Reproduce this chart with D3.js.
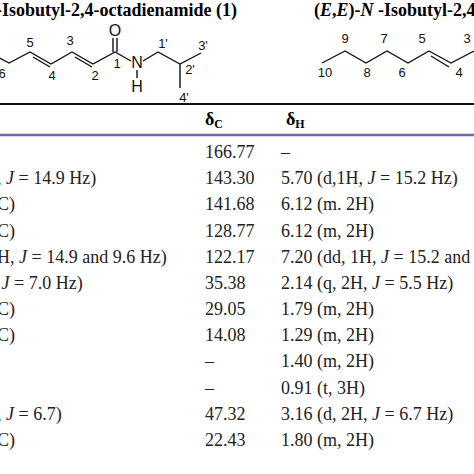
<!DOCTYPE html>
<html><head><meta charset="utf-8">
<script src="https://cdn.jsdelivr.net/npm/d3@7"></script>
<style>body{margin:0;background:#fff}svg{display:block}</style></head>
<body><svg id="c" width="474" height="474"></svg>
<script>
const leftCol = ["", ", J = 14.9 Hz)", "C)", "C)", "H, J = 14.9 and 9.6 Hz)", " J = 7.0 Hz)", "C)", "C)", "", "", ", J = 6.7)", "C)"];
const deltaC = ["166.77","143.30","141.68","128.77","122.17","35.38","29.05","14.08","–","–","47.32","22.43"];
const deltaH = ["–","5.70 (d,1H, J = 15.2 Hz)","6.12 (m. 2H)","6.12 (m, 2H)","7.20 (dd, 1H, J = 15.2 and 9.6 Hz)","2.14 (q, 2H, J = 5.5 Hz)","1.79 (m, 2H)","1.29 (m, 2H)","1.40 (m, 2H)","0.91 (t, 3H)","3.16 (d, 2H, J = 6.7 Hz)","1.80 (m, 2H)"];
const svg = d3.select("#c");
const serif = "'Liberation Serif', 'DejaVu Serif', serif";
const sans = "'Liberation Sans', Arial, sans-serif";
const y = d3.scalePoint().domain(d3.range(deltaC.length)).range([152, 440]);

function rich(sel, str){
  str.split(/(J)/).forEach(p=>{ const t=sel.append("tspan").text(p); if(p==="J") t.attr("font-style","italic"); });
}
const t1 = svg.append("text").attr("x",237).attr("y",16).attr("text-anchor","end").attr("font-family",serif).attr("font-weight","bold").attr("font-size",18);
[["(",0],["E",1],[",",0],["E",1],[")-",0],["N",1],["-Isobutyl-2,4-octadienamide (1)",0]].forEach(([s,i])=>t1.append("tspan").text(s).attr("font-style",i?"italic":null));
const t2 = svg.append("text").attr("x",314).attr("y",16).attr("font-family",serif).attr("font-weight","bold").attr("font-size",18);
[["(",0],["E",1],[",",0],["E",1],[")-",0],["N",1],[" -Isobutyl-2,4-decadienamide (2)",0]].forEach(([s,i])=>t2.append("tspan").text(s).attr("font-style",i?"italic":null));

const line = d3.line();
const g = svg.append("g").attr("stroke","#111").attr("stroke-width",1.4).attr("fill","none");
g.append("path").attr("d",line([[-12,52],[9,63],[30,52],[51,64],[72,52],[93,64],[115,52],[131,61]]));
g.append("path").attr("d",line([[33,57],[50,67]]));
g.append("path").attr("d",line([[75,57],[92,67]]));
g.append("path").attr("d",line([[113,52],[113,38]]));
g.append("path").attr("d",line([[117,52],[117,38]]));
g.append("path").attr("d",line([[143,61],[158,52],[180,64],[201,53]]));
g.append("path").attr("d",line([[180,64],[180,88]]));
g.append("path").attr("d",line([[137,70],[137,78]]));
g.append("path").attr("d",line([[322,63],[345,51],[366,63],[387,51],[408,63],[429,51],[451,63],[474,51]]));
g.append("path").attr("d",line([[431,56],[449,67]]));
const labs = [["6",2,78],["5",30,47],["4",52,80],["3",70,45],["2",95,80],["1",117,68],["O",115,36],["N",137,68],["H",137,92],["1'",163,48],["3'",203,50],["2'",190,74],["4'",184,102],
["10",325,77],["9",345,43],["8",367,77],["7",384,43],["6",402,77],["5",422,43],["4",459,77],["3",467,43]];
svg.append("g").selectAll("text").data(labs).join("text").attr("x",d=>d[1]).attr("y",d=>d[2]).attr("text-anchor","middle")
  .attr("font-family",sans).attr("font-size",d=>/[ONH]/.test(d[0])?16:13).attr("fill","#111").text(d=>d[0]);

svg.append("line").attr("x1",0).attr("x2",474).attr("y1",104).attr("y2",104).attr("stroke","#111").attr("stroke-width",2);
svg.append("line").attr("x1",0).attr("x2",474).attr("y1",135).attr("y2",135).attr("stroke","#6b6bab").attr("stroke-width",2.5);
[["C",205],["H",286]].forEach(([s,x])=>{
  const t=svg.append("text").attr("x",x).attr("y",125).attr("font-family",serif).attr("font-weight","bold").attr("font-size",18);
  t.append("tspan").text("δ"); t.append("tspan").text(s).attr("font-size",12).attr("dy",3);
});
const rows = svg.append("g").attr("font-family",serif).attr("font-size",18).attr("fill","#222");
leftCol.forEach((s,i)=>rich(rows.append("text").attr("x",-3).attr("y",y(i)+6).attr("xml:space","preserve"), s));
deltaC.forEach((s,i)=>rows.append("text").attr("x",205).attr("y",y(i)+6).text(s));
deltaH.forEach((s,i)=>rich(rows.append("text").attr("x",281).attr("y",y(i)+6),s));
</script></body></html>
